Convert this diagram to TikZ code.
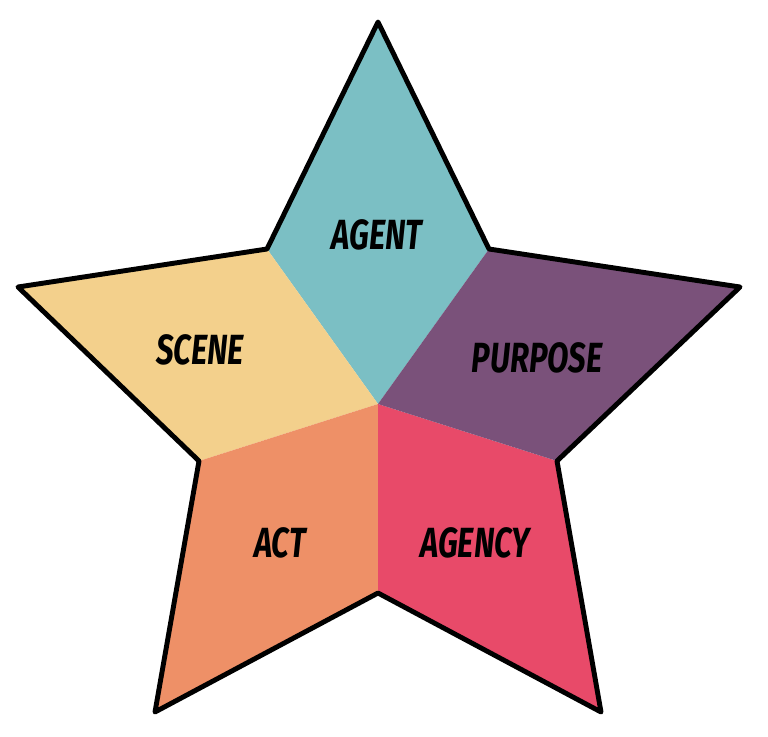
\documentclass[tikz,border=0pt]{standalone}
\usepackage{fontspec}
\newfontfamily\starfont{Fira Sans}[FakeStretch=0.74]
\usepackage{tikz}
\definecolor{agentcol}{HTML}{7BBFC4}
\definecolor{scenecol}{HTML}{F3D08C}
\definecolor{purposecol}{HTML}{7A517A}
\definecolor{agencycol}{HTML}{E84A69}
\definecolor{actcol}{HTML}{EE9067}
\tikzset{
  part/.style={draw=none},
  rim/.style={draw=black, line width=2.8pt, line join=round},
  lbl/.style={font=\starfont\bfseries\itshape\fontsize{24}{24}\selectfont, text=black},
}

\begin{document}
\begin{tikzpicture}
    \useasboundingbox (0,0) rectangle (15.36,-14.72);
    % star corners
    \coordinate (top) at (7.56,-0.44);
    \coordinate (ul)  at (5.34,-4.98);
    \coordinate (lft) at (0.36,-5.74);
    \coordinate (ll)  at (3.98,-9.22);
    \coordinate (bl)  at (3.10,-14.24);
    \coordinate (bot) at (7.56,-11.86);
    \coordinate (br)  at (12.02,-14.24);
    \coordinate (lr)  at (11.14,-9.22);
    \coordinate (rgt) at (14.80,-5.74);
    \coordinate (ur)  at (9.78,-4.98);
    \coordinate (ctr) at (7.56,-8.08);
    % five parts
    \fill[part, agentcol]   (ctr) -- (ul) -- (top) -- (ur) -- cycle;
    \fill[part, scenecol]   (ctr) -- (ll) -- (lft) -- (ul) -- cycle;
    \fill[part, actcol]     (ctr) -- (bot) -- (bl) -- (ll) -- cycle;
    \fill[part, agencycol]  (ctr) -- (lr) -- (br) -- (bot) -- cycle;
    \fill[part, purposecol] (ctr) -- (ur) -- (rgt) -- (lr) -- cycle;
    \draw[rim] (top) -- (ur) -- (rgt) -- (lr) -- (br) -- (bot) -- (bl) -- (ll) -- (lft) -- (ul) -- cycle;
    % labels
    \node[lbl] (agent)   at (7.54,-4.70)  {AGENT};
    \node[lbl] (scene)   at (4.00,-7.00)  {SCENE};
    \node[lbl] (purpose) at (10.74,-7.16) {PURPOSE};
    \node[lbl] (act)     at (5.60,-10.86) {ACT};
    \node[lbl] (agency)  at (9.50,-10.86) {AGENCY};
\end{tikzpicture}
\end{document}
